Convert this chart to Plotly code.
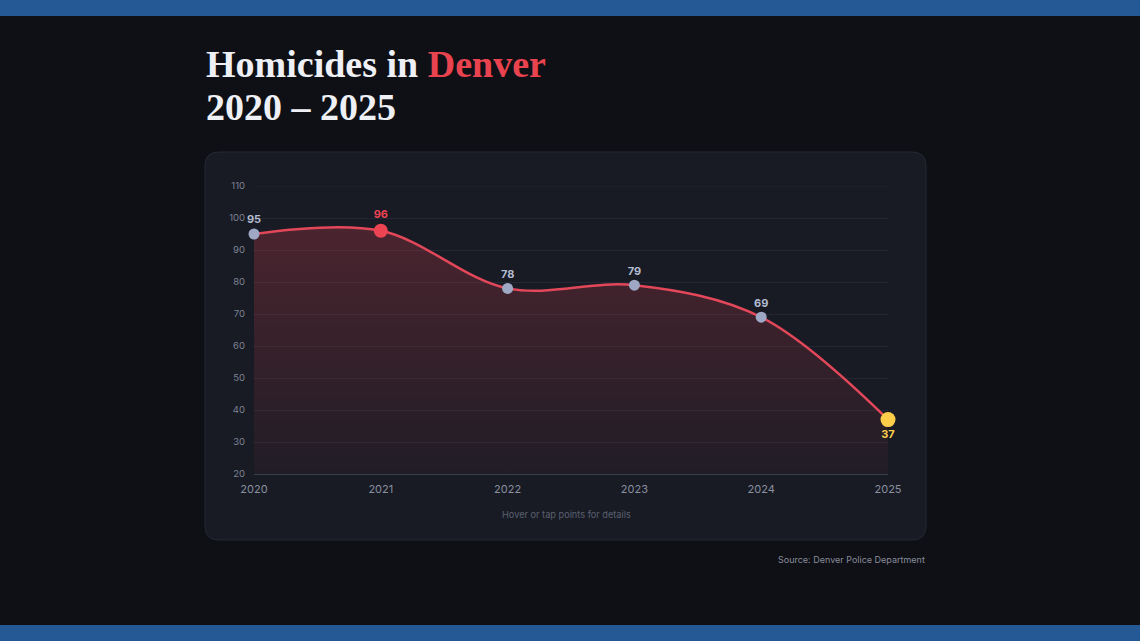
import plotly.graph_objects as go

years = [2020, 2021, 2022, 2023, 2024, 2025]
homicides = [95, 96, 78, 79, 69, 37]
point_colors = ["#9ea8c4", "#ec4452", "#9ea8c4", "#9ea8c4", "#9ea8c4", "#fcce4a"]
label_colors = ["#b3bbd0", "#ec4452", "#b3bbd0", "#b3bbd0", "#b3bbd0", "#fcce4a"]
point_sizes = [11, 14, 11, 11, 11, 15]
label_pos = ["top center", "top center", "top center", "top center", "top center", "bottom center"]
y_ticks = [20, 30, 40, 50, 60, 70, 80, 90, 100, 110]

W, H = 1140, 641
L, R, T, B = 254, 888, 186, 474  # plot area in pixels


def px(x):
    return (x - L) / (R - L)


def py(y):
    return (B - y) / (B - T)


def rounded_rect(x0, y0, x1, y1, r):
    X = px
    Y = py
    return (
        f"M {X(x0 + r)},{Y(y0)} L {X(x1 - r)},{Y(y0)} Q {X(x1)},{Y(y0)} {X(x1)},{Y(y0 + r)} "
        f"L {X(x1)},{Y(y1 - r)} Q {X(x1)},{Y(y1)} {X(x1 - r)},{Y(y1)} "
        f"L {X(x0 + r)},{Y(y1)} Q {X(x0)},{Y(y1)} {X(x0)},{Y(y1 - r)} "
        f"L {X(x0)},{Y(y0 + r)} Q {X(x0)},{Y(y0)} {X(x0 + r)},{Y(y0)} Z"
    )


fig = go.Figure()

fig.add_trace(go.Scatter(
    x=years, y=homicides, mode="lines+markers+text",
    line=dict(color="#e3475a", width=2.5, shape="spline", smoothing=1),
    fill="tozeroy",
    fillgradient=dict(type="vertical", start=20, stop=max(homicides),
                      colorscale=[[0, "rgba(232,65,80,0.04)"], [1, "rgba(232,65,80,0.24)"]]),
    marker=dict(color=point_colors, size=point_sizes, opacity=1, line=dict(width=0)),
    text=[f"<b>{v}</b>" for v in homicides],
    textposition=label_pos,
    textfont=dict(color=label_colors, size=11, family="Inter"),
    cliponaxis=False, showlegend=False,
    hovertemplate="%{x}: %{y} homicides<extra></extra>",
))

shapes = [
    dict(type="rect", xref="paper", yref="paper", x0=px(0), x1=px(W), y0=py(0), y1=py(16),
         fillcolor="#245996", line=dict(width=0), layer="below"),
    dict(type="rect", xref="paper", yref="paper", x0=px(0), x1=px(W), y0=py(625), y1=py(641),
         fillcolor="#245996", line=dict(width=0), layer="below"),
    dict(type="path", xref="paper", yref="paper", path=rounded_rect(205, 152, 926, 540, 14),
         fillcolor="#181b24", line=dict(color="#252935", width=1), layer="below"),
    dict(type="line", xref="paper", yref="y", x0=0, x1=1, y0=y_ticks[-1], y1=y_ticks[-1],
         line=dict(color="#242733", width=1), layer="below"),
]

annotations = [
    dict(text="<b>Homicides in <span style='color:#e8434f'>Denver</span></b>",
         xref="paper", yref="paper", x=px(204), y=py(64), xanchor="left", yanchor="middle",
         showarrow=False, font=dict(family="Liberation Serif", size=38, color="#eef0f5")),
    dict(text="<b>2020 – 2025</b>",
         xref="paper", yref="paper", x=px(204), y=py(107), xanchor="left", yanchor="middle",
         showarrow=False, font=dict(family="Liberation Serif", size=38, color="#eef0f5")),
    dict(text="Hover or tap points for details",
         xref="paper", yref="paper", x=px(566), y=py(514), xanchor="center", yanchor="middle",
         showarrow=False, font=dict(family="Inter", size=9.2, color="#5b6070")),
    dict(text="Source: Denver Police Department",
         xref="paper", yref="paper", x=px(927), y=py(559), xanchor="right", yanchor="middle",
         showarrow=False, font=dict(family="Inter", size=9, color="#878c9b")),
]

fig.update_layout(
    width=W, height=H,
    margin=dict(l=L, r=W - R, t=T, b=H - B, pad=0),
    paper_bgcolor="#0f1015", plot_bgcolor="rgba(0,0,0,0)",
    shapes=shapes, annotations=annotations,
    xaxis=dict(range=[years[0], years[-1]], tickvals=years, ticktext=[str(y) for y in years],
               showgrid=False, zeroline=False, showline=True, linecolor="#3a3d4b", linewidth=1,
               ticks="", ticklabelstandoff=5,
               tickfont=dict(family="Inter", size=11, color="#8b90a0"), fixedrange=True),
    yaxis=dict(range=[20, 110], tickvals=y_ticks, showgrid=True, gridcolor="#242733", gridwidth=1,
               zeroline=False, showline=False, ticks="", ticklabelstandoff=8,
               tickfont=dict(family="Inter", size=9.5, color="#7d8292"), fixedrange=True),
    hoverlabel=dict(bgcolor="#22252f", font=dict(color="#eef0f5", family="Inter")),
)

fig.write_html("out.html", config={"displayModeBar": False})
